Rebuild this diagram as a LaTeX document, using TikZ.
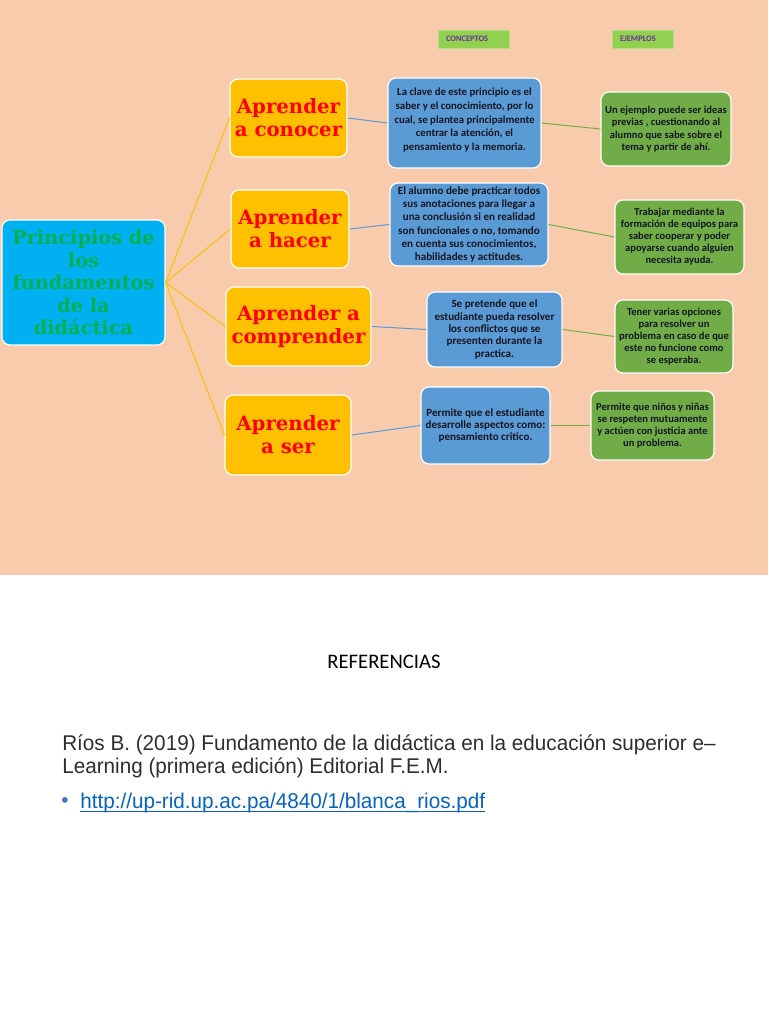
\documentclass[tikz,border=0pt]{standalone}
\usepackage{fontspec}
\newfontfamily\slabfont{DejaVu Serif}
\newfontfamily\calfont{Carlito}
\newfontfamily\reffont{Liberation Sans}[FakeStretch=0.97]
\definecolor{peach}{HTML}{F8CBAD}
\definecolor{rootblue}{HTML}{00B0F0}
\definecolor{rootgreen}{HTML}{00B050}
\definecolor{orangebox}{HTML}{FFC000}
\definecolor{redtext}{HTML}{FF0000}
\definecolor{bluebox}{HTML}{5B9BD5}
\definecolor{greenbox}{HTML}{70AD47}
\definecolor{lightgreen}{HTML}{92D050}
\definecolor{purpletext}{HTML}{7030A0}
\definecolor{darktext}{HTML}{15151F}
\definecolor{linkblue}{HTML}{0563C1}
\definecolor{bulletblue}{HTML}{4472C4}
\tikzset{
  box/.style={rectangle, rounded corners=6pt, draw=white, line width=0.9pt, inner sep=2pt, align=center},
  rootbox/.style={box, fill=rootblue, text=rootgreen, font=\slabfont\bfseries\fontsize{14.5}{16.9}\selectfont},
  obox/.style={box, fill=orangebox, text=redtext, font=\slabfont\bfseries\fontsize{14.8}{17.2}\selectfont},
  bbox/.style={box, fill=bluebox, text=darktext},
  gbox/.style={box, fill=greenbox, text=darktext, font=\calfont\bfseries\fontsize{7.9}{9}\selectfont},
  hbox/.style={rectangle, fill=lightgreen, draw=lightgreen!70!white, line width=0.4pt, text=purpletext, font=\calfont\bfseries\fontsize{6.3}{7}\selectfont, inner sep=0pt},
  yline/.style={draw=orangebox, line width=0.75pt},
  bline/.style={draw=bluebox, line width=0.75pt},
  gline/.style={draw=greenbox, line width=0.75pt},
}
\begin{document}
\begin{tikzpicture}[x=0.75pt,y=-0.75pt]
\useasboundingbox (0,0) rectangle (768,1024);
\fill[white] (0,0) rectangle (768,1024);
\fill[peach] (0,0) rectangle (768,575);

% header labels
\node[hbox, minimum width=53.25pt, minimum height=13.5pt, text width=41.25pt, align=left] (conc) at (473.5,39) {CONCEPTOS};
\node[hbox, minimum width=45.75pt, minimum height=13.5pt, text width=33.75pt, align=left] (ejem) at (642.5,39) {EJEMPLOS};

% root
\node[rootbox, minimum width=122.25pt, minimum height=93.75pt] (root) at (83.5,282.5)
  {Principios de\\los\\fundamentos\\de la\\didáctica};

% level 1
\node[obox, minimum width=87.75pt, minimum height=58.5pt] (o1) at (288.5,118) {Aprender\\a conocer};
\node[obox, minimum width=88.5pt, minimum height=58.5pt] (o2) at (290,229) {Aprender\\a hacer};
\node[obox, minimum width=108.75pt, minimum height=59.25pt] (o3) at (298.5,326.5) {Aprender a\\comprender};
\node[obox, minimum width=94.5pt, minimum height=60pt] (o4) at (288,435) {Aprender\\a ser};

% level 2 (conceptos)
\node[bbox, font=\calfont\bfseries\fontsize{8.1}{10.3}\selectfont, minimum width=114.75pt, minimum height=67.5pt] (b1) at (464.5,123)
  {La clave de este principio es el\\saber y el conocimiento, por lo\\cual, se plantea principalmente\\centrar la atención, el\\pensamiento y la memoria.\\[-5pt]};
\node[bbox, font=\calfont\bfseries\fontsize{8.3}{9.8}\selectfont, minimum width=118.5pt, minimum height=62.25pt] (b2) at (469,224.5)
  {El alumno debe practicar todos\\sus anotaciones para llegar a\\una conclusión si en realidad\\son funcionales o no, tomando\\en cuenta sus conocimientos,\\habilidades y actitudes.};
\node[bbox, font=\calfont\bfseries\fontsize{8.3}{9.2}\selectfont, minimum width=101.25pt, minimum height=56.25pt] (b3) at (494.5,329.5)
  {Se pretende que el\\estudiante pueda resolver\\los conflictos que se\\presenten durante la\\practica.};
\node[bbox, font=\calfont\bfseries\fontsize{8.3}{9.2}\selectfont, minimum width=96.75pt, minimum height=57.75pt] (b4) at (485.5,425.5)
  {Permite que el estudiante\\desarrolle aspectos como:\\pensamiento critico.};

% level 3 (ejemplos)
\node[gbox, font=\calfont\bfseries\fontsize{7.9}{9.4}\selectfont, minimum width=97.5pt, minimum height=55.5pt] (g1) at (666,129)
  {Un ejemplo puede ser ideas\\previas , cuestionando al\\alumno que sabe sobre el\\tema y partir de ahí.};
\node[gbox, minimum width=96.75pt, minimum height=55.5pt] (g2) at (679.5,237)
  {Trabajar mediante la\\formación de equipos para\\saber cooperar y poder\\apoyarse cuando alguien\\necesita ayuda.};
\node[gbox, minimum width=88.5pt, minimum height=54.75pt] (g3) at (674,336.5)
  {Tener varias opciones\\para resolver un\\problema en caso de que\\este no funcione como\\se esperaba.};
\node[gbox, minimum width=92.25pt, minimum height=51.75pt] (g4) at (652.5,425.5)
  {Permite que niños y niñas\\se respeten mutuamente\\y actúen con justicia ante\\un problema.};

% connectors
\foreach \o in {o1,o2,o3,o4} {\draw[yline] (root.east) -- (\o.west);}
\draw[bline] (o1.east) -- (b1.west);
\draw[bline] (o2.east) -- (b2.west);
\draw[bline] (o3.east) -- (b3.west);
\draw[bline] (o4.east) -- (b4.west);
\draw[gline] (b1.east) -- (g1.west);
\draw[gline] (b2.east) -- (g2.west);
\draw[gline] (b3.east) -- (g3.west);
\draw[gline] (b4.east) -- (g4.west);

% references
\node[font=\calfont\fontsize{15.5}{17}\selectfont, text=black] (refs) at (384,662) {REFERENCIAS};
\node[anchor=west, inner sep=0pt, font=\reffont\fontsize{16}{17.25}\selectfont, text=black!82, align=left] (cite) at (62,756)
  {Ríos B. (2019) Fundamento de la didáctica en la educación superior e–\\Learning (primera edición) Editorial F.E.M.};
\node[anchor=west, inner sep=0pt, font=\reffont\fontsize{16}{17.25}\selectfont, text=bulletblue] (bul) at (61,803) {•};
\node[anchor=west, inner sep=0pt, font=\reffont\fontsize{16}{17.25}\selectfont, text=linkblue] (link) at (80,803) {http://up-rid.up.ac.pa/4840/1/blanca\_rios.pdf};
\draw[linkblue, line width=0.8pt] ([yshift=-2.2pt]link.base west) -- ([yshift=-2.2pt]link.base east);
\end{tikzpicture}
\end{document}
